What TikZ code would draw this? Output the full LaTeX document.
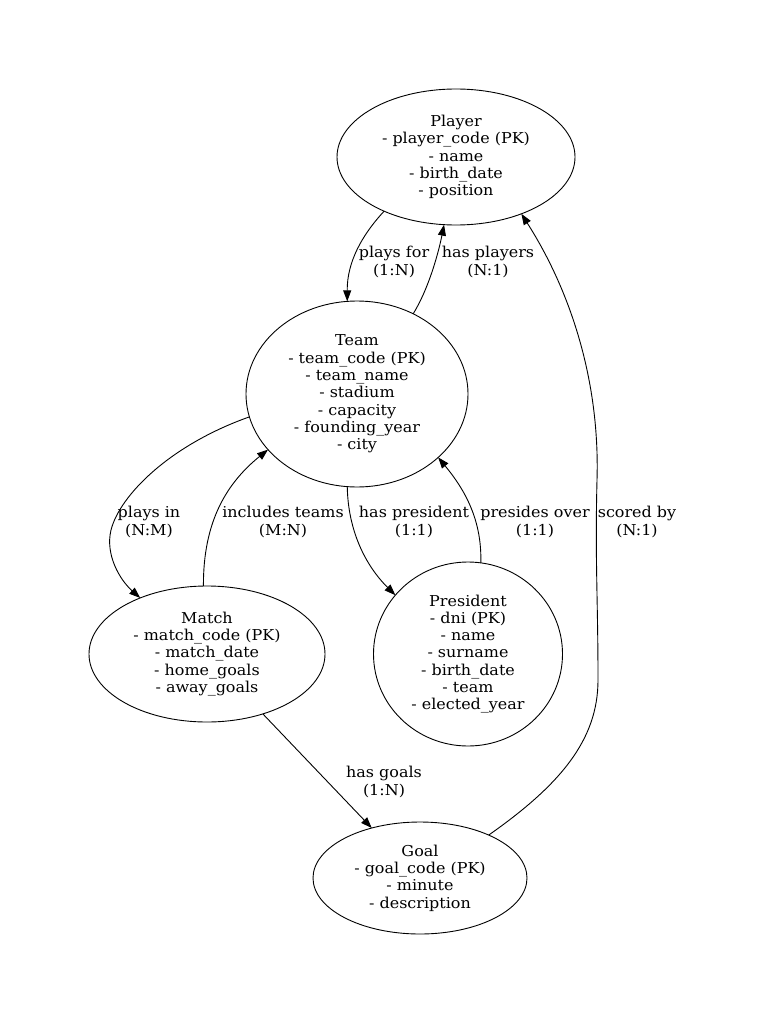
\documentclass[tikz,border=0pt]{standalone}
\usepackage{fontspec}
\setmainfont[FakeStretch=1.065]{DejaVu Serif}
\usetikzlibrary{shapes.geometric,arrows.meta}
\begin{document}
\begin{tikzpicture}[x=1pt,y=-1pt,
  ent/.style={draw,ellipse,inner sep=0pt,outer sep=0pt,align=center,line width=0.9pt,
    font=\fontsize{15}{17.3}\selectfont},
  lab/.style={align=center,inner sep=0pt,font=\fontsize{15}{17.3}\selectfont},
  rel/.style={line width=0.9pt,-{Triangle[length=11pt,width=8pt]}}]
\useasboundingbox (0,0) rectangle (768,1024);
\node[ent,minimum width=238pt,minimum height=136pt] (player) at (456,157)
  {Player\\- player\_code (PK)\\- name\\- birth\_date\\- position};
\node[ent,minimum width=222pt,minimum height=186pt] (team) at (357,394)
  {Team\\- team\_code (PK)\\- team\_name\\- stadium\\- capacity\\- founding\_year\\- city};
\node[ent,minimum width=236pt,minimum height=136pt] (match) at (207,654)
  {Match\\- match\_code (PK)\\- match\_date\\- home\_goals\\- away\_goals};
\node[ent,minimum width=189pt,minimum height=184pt] (president) at (468,654)
  {President\\- dni (PK)\\- name\\- surname\\- birth\_date\\- team\\- elected\_year};
\node[ent,minimum width=214pt,minimum height=112pt] (goal) at (420,878)
  {Goal\\- goal\_code (PK)\\- minute\\- description};

\draw[rel] (player.217) .. controls (362,235) and (347,262) .. (team.96);
\draw[rel] (team.55) .. controls (428,290) and (438,255) .. (player.260);
\draw[rel] (team.192) .. controls (170,445) and (120,495) .. (111,530)
  .. controls (105,555) and (120,580) .. (match.140);
\draw[rel] (match.93) .. controls (203,520) and (228,482) .. (team.212);
\draw[rel] (team.264) .. controls (348,530) and (365,565) .. (president.141);
\draw[rel] (president.82) .. controls (482,520) and (465,490) .. (team.322);
\draw[rel] (match.313) -- (goal.134);
\draw[rel] (goal.32) .. controls (560,785) and (598,740) .. (598,680)
  .. controls (598,600) and (595,560) .. (597,480)
  .. controls (600,380) and (570,290) .. (player.319);

\node[lab] (l1) at (394,262) {plays for\\(1:N)};
\node[lab] (l2) at (488,262) {has players\\(N:1)};
\node[lab] (l3) at (149,522) {plays in\\(N:M)};
\node[lab] (l4) at (283,522) {includes teams\\(M:N)};
\node[lab] (l5) at (414,522) {has president\\(1:1)};
\node[lab] (l6) at (535,522) {presides over\\(1:1)};
\node[lab] (l7) at (637,522) {scored by\\(N:1)};
\node[lab] (l8) at (384,782) {has goals\\(1:N)};
\end{tikzpicture}
\end{document}
